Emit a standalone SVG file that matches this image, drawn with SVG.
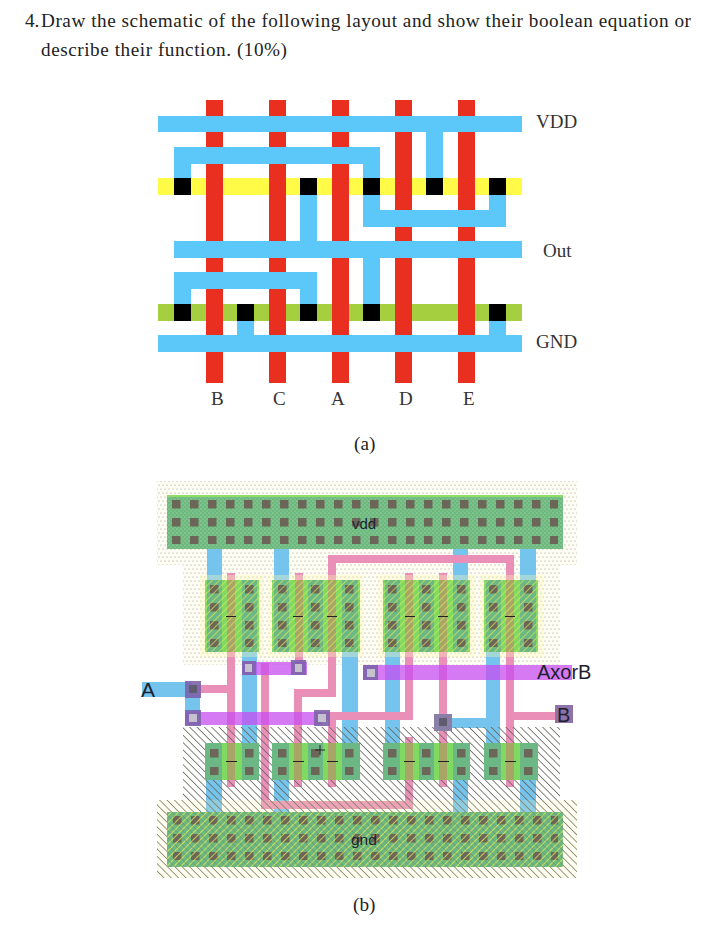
<svg xmlns="http://www.w3.org/2000/svg" width="703" height="927" viewBox="0 0 703 927">
<style>
.t{font-family:"Liberation Serif","Times New Roman",serif;fill:#222}
.h{font-size:19.200px}
.l{font-size:19px;fill:#333}
.s{font-family:"Liberation Sans",Arial,sans-serif;fill:#1c2030}
.r{fill:#e93020}.b{fill:#5cc8fa}.k{fill:#000}
.mb{fill:#74c4ee}.mp{fill:#e98fb8}.mv{fill:#c84cf0;opacity:.74}
.d{fill:#80da62}.c{fill:#6cb884}.g{fill:#a8a666}
.box{fill:#7d63ac;opacity:.9}.cl{fill:#c4c2cc}.cd{fill:#5e5c6e}
</style>
<defs>
<pattern id="dots" patternUnits="userSpaceOnUse" width="8" height="8"><rect width="8" height="8" fill="#fffef4"/><circle cx="1" cy="1" r=".55" fill="#8a8a80"/><circle cx="5" cy="1" r=".55" fill="#8a8a80"/><circle cx="3" cy="5" r=".55" fill="#8a8a80"/><circle cx="7" cy="5" r=".55" fill="#8a8a80"/></pattern>
<pattern id="lite" patternUnits="userSpaceOnUse" width="4" height="4"><circle cx="1" cy="1" r=".6" fill="#b8e6a8"/><circle cx="3" cy="3" r=".6" fill="#a8dca0"/></pattern>
<pattern id="hd" patternUnits="userSpaceOnUse" width="5.200" height="5.200" patternTransform="rotate(45)"><rect width="5.200" height=".8" fill="#66675c"/></pattern>
<pattern id="hl" patternUnits="userSpaceOnUse" width="5" height="5" patternTransform="rotate(-45)"><rect width="5" height=".8" fill="#e4ea58"/></pattern>
<pattern id="cv" patternUnits="userSpaceOnUse" x="172" y="500" width="18" height="18"><rect width="8.500" height="8.500" fill="#6b6658"/></pattern>
<pattern id="cg" patternUnits="userSpaceOnUse" x="173" y="816" width="18" height="18"><rect width="8.500" height="8.500" fill="#6b6658"/></pattern>
<pattern id="ct" patternUnits="userSpaceOnUse" x="0" y="585" width="703" height="18"><rect width="703" height="8.500" fill="#6b6658"/></pattern>
<pattern id="cb" patternUnits="userSpaceOnUse" x="0" y="749" width="703" height="18"><rect width="703" height="8.500" fill="#6b6658"/></pattern>
</defs>
<rect width="703" height="927" fill="#fff"/>
<g id="question">
<text class="t h" x="25" y="27">4.</text>
<text class="t h" x="41" y="27" textLength="650">Draw the schematic of the following layout and show their boolean equation or</text>
<text class="t h" x="41" y="56" textLength="246">describe their function. (10%)</text>
<text class="t h" x="354" y="450">(a)</text>
<text class="t h" x="353" y="911">(b)</text>
</g>
<g id="layout-a">
<rect x="158" y="178" width="364" height="17" fill="#fffb46"/>
<rect x="158" y="304" width="364" height="17" fill="#a5cf3f"/>
<rect class="r" x="206" y="100" width="17" height="283"/>
<rect class="r" x="269" y="100" width="17" height="283"/>
<rect class="r" x="332" y="100" width="17" height="283"/>
<rect class="r" x="395" y="100" width="17" height="283"/>
<rect class="r" x="458" y="100" width="17" height="283"/>
<path class="b" d="M158 116h364v16h-79v46h-17v-46H158zM174 147h206v31h-17v-14H191v14h-17zM363 195h17v15h109v-15h17v32H363zM300 195h17v46h205v17H380v46h-17v-46H174v-17h126zM174 272h143v32h-17v-15H191v15h-17zM158 335h79v-15h17v15h235v-15h17v15h16v17H158z"/>
<path class="k" d="M174 178h17v17h-17zM300 178h17v17h-17zM363 178h17v17h-17zM426 178h17v17h-17zM489 178h17v17h-17zM174 304h17v17h-17zM237 304h17v17h-17zM300 304h17v17h-17zM363 304h17v17h-17zM489 304h17v17h-17z"/>
<text class="t l" x="536" y="128">VDD</text>
<text class="t l" x="543" y="257">Out</text>
<text class="t l" x="536" y="348">GND</text>
<text class="t l" x="211" y="405">B</text>
<text class="t l" x="273" y="405">C</text>
<text class="t l" x="331" y="405">A</text>
<text class="t l" x="399" y="405">D</text>
<text class="t l" x="463" y="405">E</text>
</g>
<g id="layout-b">
<path fill="url(#dots)" d="M157 481h420v84h-17v100H183V565h-26z"/>
<g id="metal1">
<rect class="mb" x="207" y="549" width="15" height="31"/>
<rect class="mb" x="274" y="549" width="15" height="31"/>
<rect class="mb" x="453" y="549" width="15" height="31"/>
<rect class="mb" x="520" y="549" width="16" height="31"/>
<rect class="mb" x="242" y="652" width="15" height="91"/>
<rect class="mb" x="342" y="652" width="16" height="91"/>
<rect class="mb" x="385" y="652" width="15" height="91"/>
<rect class="mb" x="486" y="652" width="14" height="91"/>
<rect class="mb" x="206" y="779" width="16" height="34"/>
<rect class="mb" x="274" y="779" width="15" height="34"/>
<rect class="mb" x="453" y="779" width="15" height="34"/>
<rect class="mb" x="520" y="779" width="16" height="34"/>
<rect class="mb" x="142" y="682" width="50" height="15"/>
<rect class="mb" x="185" y="690" width="15" height="28"/>
<rect class="mb" x="443" y="718" width="55" height="10"/>
</g>
<g id="poly">
<path class="mp" d="M227 573h8v214h-8zM295 573h8v95h-8zM294 689h8v98h-8zM294 689h42v8h-42zM328 555h8v142h-8zM328 555h186v8H328zM506 555h8v232h-8zM261 663h8v146h-8zM261 801h152v8H261zM405 737h8v72h-8zM405 573h8v147h-8zM322 712h91v8h-91zM328 712h8v75h-8zM439 573h8v214h-8zM506 712h50v8h-50zM192 685h39v8h-39z"/>
<rect x="555" y="705" width="18" height="18" fill="#8e72a8"/>
</g>
<rect x="183" y="727" width="377" height="73" fill="url(#hd)"/>
<rect x="157" y="800" width="420" height="78" fill="url(#hd)"/>
<rect x="157" y="800" width="420" height="78" fill="#fffbb0" opacity=".18"/>
<g id="top-diff">
<rect x="200" y="575" width="64" height="82" fill="#fdfab0" opacity=".35"/>
<rect x="267" y="575" width="97" height="82" fill="#fdfab0" opacity=".35"/>
<rect x="378" y="575" width="97" height="82" fill="#fdfab0" opacity=".35"/>
<rect x="479" y="575" width="64" height="82" fill="#fdfab0" opacity=".35"/>
<rect class="d" x="205" y="580" width="54" height="72"/>
<rect class="d" x="272" y="580" width="88" height="72"/>
<rect class="d" x="383" y="580" width="87" height="72"/>
<rect class="d" x="484" y="580" width="54" height="72"/>
<path class="c" d="M207 580h15v72h-15zM242 580h15v72h-15zM274 580h15v72h-15zM308 580h15v72h-15zM342 580h16v72h-16zM385 580h15v72h-15zM419 580h15v72h-15zM453 580h15v72h-15zM486 580h15v72h-15zM520 580h16v72h-16z"/>
<path class="g" d="M227 580h8v72h-8zM295 580h8v72h-8zM328 580h8v72h-8zM405 580h8v72h-8zM439 580h8v72h-8zM506 580h8v72h-8z"/>
<path fill="url(#ct)" d="M210 585h8.500v62h-8.500zM245 585h8.500v62h-8.500zM278 585h8.500v62h-8.500zM311 585h8.500v62h-8.500zM345 585h8.500v62h-8.500zM388 585h8.500v62h-8.500zM422 585h8.500v62h-8.500zM457 585h8.500v62h-8.500zM489 585h8.500v62h-8.500zM524 585h8.500v62h-8.500z"/>
<path fill="url(#hl)" opacity=".8" d="M205 580h54v72h-54zM272 580h88v72h-88zM383 580h87v72h-87zM484 580h54v72h-54z"/>
</g>
<g id="bottom-diff">
<rect class="d" x="205" y="743" width="54" height="37"/>
<rect class="d" x="272" y="743" width="88" height="37"/>
<rect class="d" x="383" y="743" width="87" height="37"/>
<rect class="d" x="484" y="743" width="54" height="37"/>
<path class="c" d="M205 743h17v37h-17zM242 743h17v37h-17zM272 743h17v37h-17zM308 743h15v37h-15zM342 743h18v37h-18zM383 743h17v37h-17zM419 743h15v37h-15zM453 743h17v37h-17zM484 743h17v37h-17zM520 743h18v37h-18z"/>
<path class="g" d="M227 743h8v37h-8zM294 743h8v37h-8zM328 743h8v37h-8zM405 743h8v37h-8zM439 743h8v37h-8zM506 743h8v37h-8z"/>
<path fill="url(#cb)" d="M210 749h8.500v26h-8.500zM245 749h8.500v26h-8.500zM278 749h8.500v26h-8.500zM311 749h8.500v26h-8.500zM345 749h8.500v26h-8.500zM388 749h8.500v26h-8.500zM422 749h8.500v26h-8.500zM457 749h8.500v26h-8.500zM489 749h8.500v26h-8.500zM524 749h8.500v26h-8.500z"/>
</g>
<g id="marks" stroke="#222" stroke-width="1" fill="none">
<path d="M226 616.500h10M293 616.500h10M327 616.500h10M405 616.500h10M438 616.500h10M505 616.500h10M226 761.500h11M293 761.500h11M327 761.500h11M404 761.500h11M438 761.500h11M505 761.500h11M315 750h10M320 745v10"/>
</g>
<g id="metal2">
<rect class="mv" x="242" y="662" width="65" height="13"/>
<rect class="mv" x="363" y="665" width="209" height="15"/>
<rect class="mv" x="185" y="712" width="137" height="13"/>
<rect class="box" x="242" y="661" width="14" height="14"/><rect class="cl" x="245" y="664" width="7" height="8"/>
<rect class="box" x="291" y="660" width="15" height="15"/><rect class="cl" x="295" y="664" width="7" height="8"/>
<rect class="box" x="363" y="665" width="15" height="15"/><rect class="cl" x="367" y="669" width="8" height="8"/>
<rect class="box" x="185" y="681" width="16" height="17"/><rect class="cd" x="189" y="685" width="8" height="8"/>
<rect class="box" x="185" y="710" width="16" height="16"/><rect class="cl" x="189" y="714" width="8" height="8"/>
<rect class="box" x="314" y="710" width="16" height="16"/><rect class="cl" x="318" y="714" width="8" height="8"/>
<rect fill="#8a7fa6" x="434" y="714" width="18" height="17"/><rect class="cd" x="439" y="718" width="8" height="8"/>
</g>
<g id="vdd">
<rect x="167" y="495" width="396" height="54" fill="#6cb880"/>
<rect x="167" y="495" width="396" height="54" fill="url(#lite)"/>
<rect x="172" y="500" width="386" height="44" fill="url(#cv)"/>
<rect x="167" y="495" width="396" height="2" fill="#8fdc68"/>
<text class="s" x="352" y="529" font-size="15px">vdd</text>
</g>
<g id="gnd">
<rect x="167" y="812" width="396" height="55" fill="#6cb880"/>
<rect x="173" y="816" width="385" height="44" fill="url(#cg)"/>
<rect x="167" y="812" width="396" height="55" fill="url(#hl)"/>
<rect x="167" y="812" width="396" height="55" fill="url(#hd)" opacity=".35"/>
<text class="s" x="351" y="845" font-size="15.500px">gnd</text>
</g>
<text class="s" x="141" y="697" font-size="21px">A</text>
<text class="s" x="537" y="679" font-size="20px">AxorB</text>
<text class="s" x="557" y="722" font-size="20px">B</text>
</g>
</svg>
